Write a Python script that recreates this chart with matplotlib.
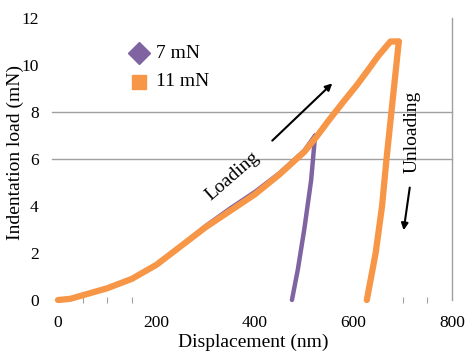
import matplotlib
matplotlib.use("Agg")
import matplotlib.pyplot as plt

# Data
load_11_h = [0, 25, 50, 100, 150, 200, 250, 300, 350, 400, 450, 500, 525, 550, 580, 607, 630, 650, 675, 692]
load_11_p = [0, 0.05, 0.2, 0.5, 0.9, 1.5, 2.3, 3.1, 3.8, 4.5, 5.35, 6.3, 6.95, 7.65, 8.45, 9.15, 9.8, 10.38, 11.0, 11.0]
unload_11_h = [692, 677, 667, 658, 645, 627]
unload_11_p = [11.0, 8.0, 6.0, 4.0, 2.0, 0.0]

load_7_h = [0, 25, 50, 100, 150, 200, 250, 300, 350, 400, 450, 500, 522]
load_7_p = [0, 0.05, 0.2, 0.5, 0.9, 1.5, 2.3, 3.15, 3.9, 4.6, 5.4, 6.35, 7.0]
unload_7_h = [522, 514, 500, 487, 475]
unload_7_p = [7.0, 5.1, 3.0, 1.3, 0.0]

series_labels = ["7 mN", "11 mN"]
x_ticks = [0, 200, 400, 600, 800]
y_ticks = [0, 2, 4, 6, 8, 10, 12]
grid_levels = [6, 8]
minor_x = [50, 100, 150, 200, 700, 750]

purple = "#8064A2"
orange = "#F79646"
grey = "#A0A0A0"

plt.rcParams['font.family'] = ['Liberation Serif', 'DejaVu Serif']
plt.rcParams['font.size'] = 12.5

fig = plt.figure(figsize=(4.74, 3.52), dpi=100)
ax = fig.add_axes([58/474, 52/352, 394/474, 282/352])
ax.set_xlim(0, 800)
ax.set_ylim(0, 12)

for g in grid_levels:
    ax.plot([-12, 800], [g, g], color=grey, lw=1.0, clip_on=False, zorder=1)
ax.plot([800, 800], [0, 12], color=grey, lw=1.0, clip_on=False, zorder=1)

ax.plot(load_7_h, load_7_p, color=purple, lw=3.2, solid_capstyle='round', solid_joinstyle='round', zorder=2, clip_on=False)
ax.plot(unload_7_h, unload_7_p, color=purple, lw=3.2, solid_capstyle='round', solid_joinstyle='round', zorder=2, clip_on=False)
ax.plot(load_11_h, load_11_p, color=orange, lw=4.5, solid_capstyle='round', solid_joinstyle='round', zorder=3, clip_on=False)
ax.plot(unload_11_h, unload_11_p, color=orange, lw=4.5, solid_capstyle='round', solid_joinstyle='round', zorder=3, clip_on=False)

for s in ax.spines.values():
    s.set_visible(False)
ax.set_xticks(x_ticks)
ax.set_yticks(y_ticks)
ax.set_xticks(minor_x, minor=True)
ax.tick_params(which='major', length=0)
ax.tick_params(axis='x', which='major', pad=11)
ax.tick_params(axis='y', which='major', pad=14)
ax.tick_params(axis='x', which='minor', direction='inout', length=5, color=grey, width=0.8)

fig.text(253/474, 1 - 342/352, "Displacement (nm)", ha='center', va='center', fontsize=14)
fig.text(15/474, 1 - 152/352, "Indentation load (mN)", ha='center', va='center', fontsize=14, rotation=90)

# Legend (manual, in data coords)
ax.plot([164], [10.5], marker='D', color=purple, markersize=11, ls='none', clip_on=False)
ax.plot([164], [9.28], marker='s', color=orange, markersize=10, ls='none', clip_on=False)
ax.text(200, 10.5, series_labels[0], va='center', ha='left', fontsize=14)
ax.text(200, 9.28, series_labels[1], va='center', ha='left', fontsize=14)

# Annotations
ax.text(355, 5.25, "Loading", rotation=41, ha='center', va='center', rotation_mode='anchor', fontsize=14)
ax.annotate("", xy=(561, 9.3), xytext=(431, 6.7),
            arrowprops=dict(arrowstyle='-|>', color='black', lw=1.5, mutation_scale=10))
ax.text(720, 7.15, "Unloading", rotation=90, ha='center', va='center', fontsize=14)
ax.annotate("", xy=(701, 2.85), xytext=(715, 4.9),
            arrowprops=dict(arrowstyle='-|>', color='black', lw=1.5, mutation_scale=10))

fig.savefig("out.png", dpi=100)
